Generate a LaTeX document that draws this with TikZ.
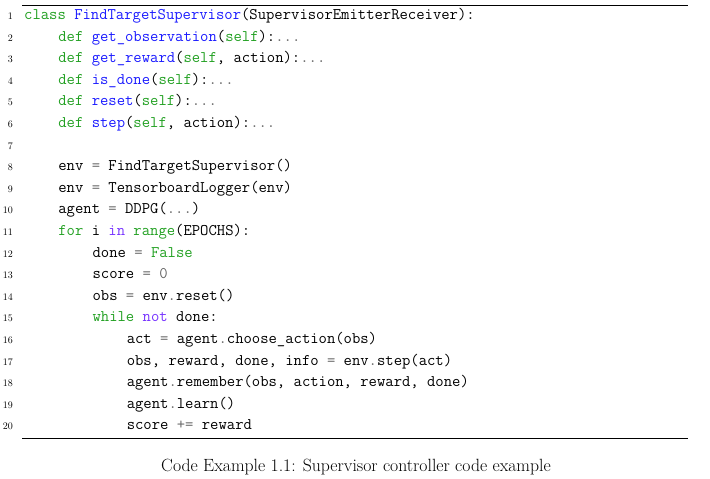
\documentclass[tikz,border=0pt]{standalone}
\usepackage{fontspec}
\definecolor{kw}{HTML}{22A022}
\definecolor{fn}{HTML}{1A1AFF}
\definecolor{op}{HTML}{666666}
\definecolor{pw}{HTML}{7733FF}
\newcommand{\K}[1]{\textcolor{kw}{#1}}
\newcommand{\F}[1]{\textcolor{fn}{#1}}
\newcommand{\Op}[1]{\textcolor{op}{#1}}
\newcommand{\W}[1]{\textcolor{pw}{#1}}
\begin{document}
\begin{tikzpicture}[x=1pt,y=-1pt,
  code/.style={anchor=base west,inner sep=0pt,font=\fontsize{16.2}{18}\ttfamily},
  lnum/.style={anchor=base east,inner sep=0pt,font=\fontsize{10}{12}\selectfont}]
\useasboundingbox (0,0) rectangle (710,479);
\draw[line width=0.8] (22,5) -- (688,5);
\draw[line width=0.8] (22,438) -- (688,438);
\def\cw{8.55}
\def\Lx{24}
\foreach \n/\ind/\t in {
 1/0/{\K{class} \F{FindTargetSupervisor}(SupervisorEmitterReceiver):},
 2/4/{\K{def} \F{get\_observation}(\K{self}):\Op{...}},
 3/4/{\K{def} \F{get\_reward}(\K{self}, action):\Op{...}},
 4/4/{\K{def} \F{is\_done}(\K{self}):\Op{...}},
 5/4/{\K{def} \F{reset}(\K{self}):\Op{...}},
 6/4/{\K{def} \F{step}(\K{self}, action):\Op{...}},
 7/4/{},
 8/4/{env \Op{=} FindTargetSupervisor()},
 9/4/{env \Op{=} TensorboardLogger(env)},
 10/4/{agent \Op{=} DDPG(\Op{...})},
 11/4/{\K{for} i \W{in} \K{range}(EPOCHS):},
 12/8/{done \Op{=} \K{False}},
 13/8/{score \Op{=} \Op{0}},
 14/8/{obs \Op{=} env\Op{.}reset()},
 15/8/{\K{while} \W{not} done:},
 16/12/{act \Op{=} agent\Op{.}choose\_action(obs)},
 17/12/{obs, reward, done, info \Op{=} env\Op{.}step(act)},
 18/12/{agent\Op{.}remember(obs, action, reward, done)},
 19/12/{agent\Op{.}learn()},
 20/12/{score \Op{+=} reward}}
{
  \node[lnum] (n\n) at (13,{19.5+(\n-1)*21.6}) {\n};
  \node[code] (c\n) at ({\Lx+\ind*\cw},{19.5+(\n-1)*21.6}) {\strut\t};
}
\node[anchor=base,inner sep=0pt,font=\fontsize{17.7}{20}\selectfont] (cap) at (356,471) {Code Example 1.1: Supervisor controller code example};
\end{tikzpicture}
\end{document}
